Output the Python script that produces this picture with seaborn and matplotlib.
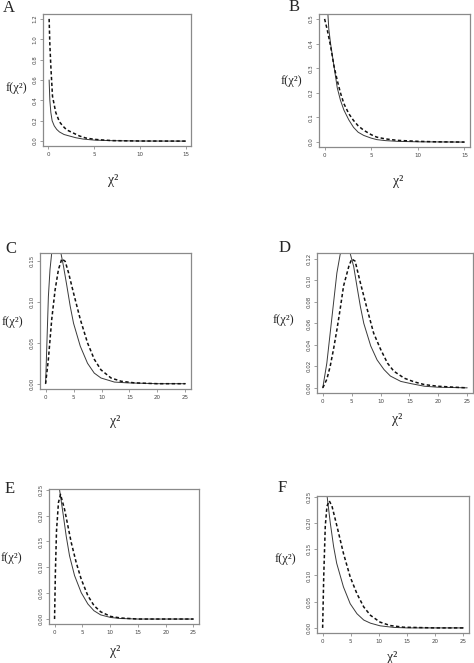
import numpy as np
import pandas as pd
import matplotlib
matplotlib.use("Agg")
import matplotlib.pyplot as plt
import seaborn as sns

# ===============================
# DATA
# ===============================

a_solid_x = [0.07, 0.15, 0.26, 0.4, 0.63, 0.9, 1.2, 1.7, 2.3, 3.0, 3.8, 5.0, 7.0, 10.0, 15.0]
a_solid_y = [0.6, 0.4, 0.28, 0.2, 0.15, 0.115, 0.09, 0.065, 0.05, 0.033, 0.02, 0.01, 0.004, 0.001, 0.0]
a_dash_x = [0.07, 0.15, 0.26, 0.44, 0.8, 1.2, 1.55, 2.0, 2.7, 3.4, 4.1, 5.0, 5.6, 7.0, 10.0, 15.0]
a_dash_y = [1.2, 0.95, 0.73, 0.44, 0.28, 0.19, 0.15, 0.11, 0.08, 0.05, 0.03, 0.018, 0.013, 0.005, 0.001, 0.0]

b_solid_x = [0.29, 0.45, 0.64, 1.0, 1.36, 1.7, 2.07, 2.6, 3.1, 3.6, 4.2, 5.0, 5.6, 6.5, 7.8, 10, 15]
b_solid_y = [0.56, 0.46, 0.40, 0.31, 0.22, 0.17, 0.13, 0.09, 0.06, 0.04, 0.027, 0.016, 0.01, 0.006, 0.003, 0.001, 0.0]
b_dash_x = [0, 0.29, 0.64, 1.0, 1.36, 1.7, 2.07, 2.6, 3.1, 3.6, 4.2, 5.0, 5.6, 6.5, 7.8, 10, 12, 15]
b_dash_y = [0.5, 0.455, 0.39, 0.31, 0.25, 0.2, 0.156, 0.115, 0.088, 0.066, 0.048, 0.03, 0.02, 0.013, 0.007, 0.003, 0.001, 0.0]

c_solid_x = [0, 0.18, 0.5, 0.79, 1.09, 1.5, 2.0, 2.6, 3.2, 3.8, 4.4, 5.0, 6.2, 7.5, 8.7, 9.9, 12.3, 14.7, 20, 25]
c_solid_y = [0, 0.038, 0.107, 0.14, 0.16, 0.19, 0.19, 0.165, 0.144, 0.12, 0.095, 0.074, 0.046, 0.025, 0.013, 0.007, 0.002, 0.001, 0.0, 0.0]
c_dash_x = [0, 0.5, 1.1, 1.7, 2.3, 2.9, 3.5, 4.1, 5.0, 6.2, 7.5, 8.7, 9.9, 11.7, 13.5, 15.9, 20, 25]
c_dash_y = [0, 0.03, 0.079, 0.115, 0.14, 0.153, 0.15, 0.136, 0.111, 0.079, 0.05, 0.03, 0.017, 0.007, 0.003, 0.001, 0.0, 0.0]

d_solid_x = [0, 0.7, 1.28, 1.86, 2.44, 3.0, 3.5, 4.0, 4.6, 5.35, 5.9, 6.5, 7.1, 8.3, 9.4, 10.6, 11.7, 13.5, 15.2, 17.6, 19.9, 25]
d_solid_y = [0, 0.023, 0.051, 0.079, 0.107, 0.124, 0.133, 0.135, 0.128, 0.113, 0.095, 0.076, 0.06, 0.039, 0.026, 0.017, 0.011, 0.006, 0.004, 0.0015, 0.0006, 0.0]
d_dash_x = [0, 0.7, 1.28, 1.86, 2.44, 3.0, 3.6, 4.5, 5.0, 5.6, 6.5, 7.7, 8.8, 10, 11.2, 12.3, 14.1, 15.8, 17.6, 19.9, 22.8, 25]
d_dash_y = [0, 0.008, 0.02, 0.036, 0.054, 0.073, 0.095, 0.113, 0.12, 0.118, 0.098, 0.073, 0.051, 0.036, 0.023, 0.0155, 0.009, 0.0056, 0.003, 0.0015, 0.0006, 0.0]

e_solid_x = [0.3, 0.6, 0.9, 1.5, 2.1, 2.7, 3.6, 4.8, 6.0, 7.1, 8.3, 10.1, 11.9, 15, 20, 25]
e_solid_y = [0.4, 0.3, 0.25, 0.206, 0.16, 0.122, 0.084, 0.051, 0.029, 0.016, 0.008, 0.003, 0.001, 0.0, 0.0, 0.0]
e_dash_x = [0, 0.15, 0.35, 0.7, 1.07, 1.8, 2.4, 3.0, 3.9, 4.8, 6.0, 7.1, 8.3, 10.1, 11.9, 15, 20, 25]
e_dash_y = [0, 0.09, 0.17, 0.225, 0.241, 0.212, 0.18, 0.148, 0.109, 0.077, 0.045, 0.026, 0.014, 0.005, 0.002, 0.0, 0.0, 0.0]

f_solid_x = [0.4, 0.77, 1.36, 1.95, 2.5, 3.7, 4.9, 6.1, 7.3, 8.5, 10.2, 12.6, 15, 20, 25]
f_solid_y = [0.35, 0.253, 0.2, 0.155, 0.123, 0.078, 0.046, 0.027, 0.015, 0.009, 0.004, 0.001, 0.0, 0.0, 0.0]
f_dash_x = [0, 0.2, 0.47, 0.77, 1.18, 1.66, 2.54, 3.7, 4.9, 6.1, 7.3, 8.5, 10.2, 12.0, 14.4, 20, 25]
f_dash_y = [0, 0.1, 0.194, 0.232, 0.242, 0.232, 0.194, 0.142, 0.097, 0.065, 0.04, 0.024, 0.011, 0.0045, 0.0013, 0.0, 0.0]

panel_letters = ["A", "B", "C", "D", "E", "F"]
xticks_15 = [0, 5, 10, 15]
xticks_25 = [0, 5, 10, 15, 20, 25]
yticks_a = [0.0, 0.2, 0.4, 0.6, 0.8, 1.0, 1.2]
yticks_b = [0.0, 0.1, 0.2, 0.3, 0.4, 0.5]
yticks_c = [0.00, 0.05, 0.10, 0.15]
yticks_d = [0.00, 0.02, 0.04, 0.06, 0.08, 0.10, 0.12]
yticks_ef = [0.00, 0.05, 0.10, 0.15, 0.20, 0.25]

# ===============================
# STYLE
# ===============================

sns.set_style("white")
plt.rcParams["font.family"] = ["Liberation Serif", "DejaVu Serif"]

W, H = 474, 663
fig = plt.figure(figsize=(W / 100, H / 100), dpi=100)

# panel boxes in pixels: left, top, right, bottom
boxes = [
    (43, 14, 191, 146),
    (319, 14, 470, 147),
    (40, 253, 191, 389),
    (317, 253, 473, 393),
    (49, 489, 199, 624),
    (317, 496, 469, 633),
]
letter_pos = [(3, 8), (289, 7), (5, 249), (279, 248), (5, 489), (278, 488)]
ylab_pos = [(16, 88), (291, 81), (12, 322), (283, 320), (11, 558), (285, 559)]
xlab_pos = [(113, 181), (398, 182), (115, 421), (397, 420), (115, 652), (392, 657)]

panels = [
    (a_solid_x, a_solid_y, a_dash_x, a_dash_y, xticks_15, yticks_a, "%.1f", (-0.6, 15.6), (-0.048, 1.248)),
    (b_solid_x, b_solid_y, b_dash_x, b_dash_y, xticks_15, yticks_b, "%.1f", (-0.6, 15.6), (-0.02, 0.52)),
    (c_solid_x, c_solid_y, c_dash_x, c_dash_y, xticks_25, yticks_c, "%.2f", (-1, 26), (-0.0065, 0.1602)),
    (d_solid_x, d_solid_y, d_dash_x, d_dash_y, xticks_25, yticks_d, "%.2f", (-1, 26), (-0.0048, 0.1256)),
    (e_solid_x, e_solid_y, e_dash_x, e_dash_y, xticks_25, yticks_ef, "%.2f", (-1, 26), (-0.0096, 0.2513)),
    (f_solid_x, f_solid_y, f_dash_x, f_dash_y, xticks_25, yticks_ef, "%.2f", (-1, 26), (-0.0097, 0.2513)),
]

# ===============================
# DRAW PANELS
# ===============================

for i, (sx, sy, dx, dy, xt, yt, fmt, xl, yl) in enumerate(panels):
    l, t, r, b = boxes[i]
    ax = fig.add_axes([l / W, 1 - b / H, (r - l) / W, (b - t) / H])

    solid = pd.DataFrame({"x": sx, "y": sy})
    dashed = pd.DataFrame({"x": dx, "y": dy})
    sns.lineplot(data=solid, x="x", y="y", ax=ax, color="#3a3a3a",
                 linewidth=0.7, sort=False, estimator=None)
    sns.lineplot(data=dashed, x="x", y="y", ax=ax, color="#111111",
                 linewidth=1.1, linestyle=(0, (2.2, 1.6)), sort=False, estimator=None)

    ax.set_xlim(*xl)
    ax.set_ylim(*yl)
    ax.set_xticks(xt)
    ax.set_yticks(yt)
    ax.set_xticklabels([str(v) for v in xt], fontsize=4, family="DejaVu Sans", color="#444")
    ax.set_yticklabels([fmt % v for v in yt], fontsize=4, family="DejaVu Sans",
                       color="#444", rotation=90, va="center")
    ax.tick_params(length=2, width=0.5, color="#777", pad=2, direction="out",
                   bottom=True, left=True)
    ax.set_xlabel("")
    ax.set_ylabel("")
    for sp in ax.spines.values():
        sp.set_color("#8a8a8a")
        sp.set_linewidth(0.9)

    lx, ly = letter_pos[i]
    fig.text(lx / W, 1 - ly / H, panel_letters[i], fontsize=12, ha="left", va="center")
    yx, yy = ylab_pos[i]
    fig.text(yx / W, 1 - yy / H, "f(χ²)", fontsize=9, ha="center", va="center")
    xx, xy = xlab_pos[i]
    fig.text(xx / W, 1 - xy / H, "χ²", fontsize=10, ha="center", va="center")

fig.savefig("out.png", dpi=100, facecolor="white")
